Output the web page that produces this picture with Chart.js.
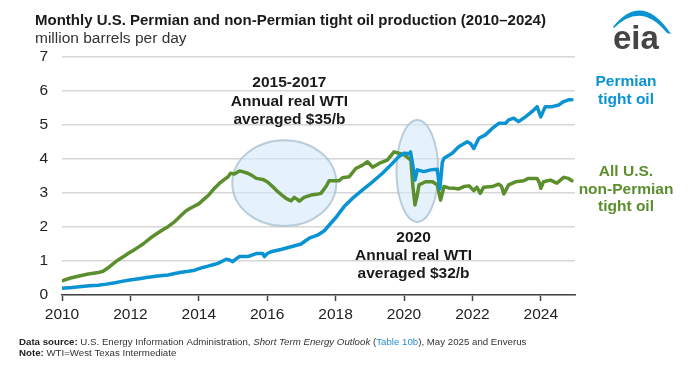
<!DOCTYPE html>
<html><head><meta charset="utf-8">
<script src="https://cdn.jsdelivr.net/npm/chart.js@4/dist/chart.umd.min.js"></script>
<style>html,body{margin:0;padding:0;background:#fff;} canvas{display:block;}</style>
</head><body>
<canvas id="c" width="696" height="373"></canvas>
<script>
// ---- data (decimal years, million barrels per day) ----
const permianYears = [2010.0,2010.3,2010.57,2010.8,2011.06,2011.3,2011.55,2011.75,2011.98,2012.25,2012.52,2012.8,2013.1,2013.3,2013.49,2013.7,2013.88,2014.12,2014.27,2014.42,2014.56,2014.8,2014.9,2014.99,2015.1,2015.19,2015.43,2015.55,2015.68,2015.87,2015.92,2016.0,2016.11,2016.4,2016.7,2016.99,2017.1,2017.23,2017.47,2017.67,2017.86,2018.01,2018.1,2018.25,2018.49,2018.79,2019.08,2019.37,2019.61,2019.85,2020.0,2020.1,2020.15,2020.19,2020.26,2020.32,2020.39,2020.58,2020.78,2020.97,2021.05,2021.12,2021.17,2021.41,2021.6,2021.85,2021.95,2022.04,2022.19,2022.38,2022.58,2022.77,2022.97,2023.06,2023.21,2023.35,2023.55,2023.74,2023.89,2024.0,2024.13,2024.33,2024.53,2024.67,2024.81,2024.91];
const permianValues = [0.20,0.22,0.25,0.27,0.29,0.32,0.36,0.40,0.44,0.48,0.52,0.56,0.59,0.63,0.67,0.70,0.73,0.81,0.85,0.89,0.93,1.05,1.03,0.98,1.07,1.13,1.13,1.17,1.22,1.22,1.13,1.22,1.27,1.34,1.42,1.50,1.58,1.67,1.76,1.89,2.11,2.28,2.40,2.60,2.84,3.09,3.33,3.58,3.82,4.07,4.17,4.16,4.15,4.21,3.80,3.38,3.68,3.63,3.68,3.70,3.12,3.90,4.02,4.17,4.36,4.51,4.45,4.31,4.61,4.71,4.90,5.05,5.05,5.15,5.20,5.10,5.24,5.39,5.54,5.24,5.54,5.54,5.59,5.69,5.74,5.74];

const nonPermianYears = [2010.0,2010.25,2010.5,2010.77,2011.06,2011.2,2011.35,2011.5,2011.64,2011.8,2011.93,2012.08,2012.22,2012.37,2012.52,2012.66,2012.81,2012.95,2013.1,2013.25,2013.39,2013.51,2013.63,2013.75,2013.88,2014.0,2014.12,2014.3,2014.46,2014.6,2014.75,2014.85,2014.93,2015.04,2015.19,2015.3,2015.43,2015.55,2015.68,2015.87,2016.0,2016.06,2016.2,2016.31,2016.45,2016.55,2016.7,2016.79,2016.87,2016.94,2017.08,2017.28,2017.45,2017.57,2017.72,2017.81,2018.01,2018.1,2018.2,2018.4,2018.59,2018.79,2018.93,2019.0,2019.08,2019.27,2019.51,2019.71,2019.85,2020.0,2020.1,2020.2,2020.26,2020.32,2020.38,2020.44,2020.63,2020.83,2020.97,2021.07,2021.17,2021.3,2021.46,2021.6,2021.75,2021.9,2022.04,2022.13,2022.23,2022.33,2022.58,2022.77,2022.85,2022.92,2023.06,2023.26,2023.5,2023.64,2023.89,2023.96,2024.0,2024.08,2024.28,2024.47,2024.67,2024.81,2024.91];
const nonPermianValues = [0.42,0.50,0.56,0.62,0.66,0.70,0.80,0.92,1.03,1.13,1.22,1.31,1.40,1.50,1.62,1.73,1.83,1.92,2.01,2.12,2.25,2.37,2.48,2.55,2.62,2.68,2.79,2.95,3.14,3.28,3.40,3.47,3.58,3.56,3.65,3.62,3.58,3.52,3.43,3.40,3.33,3.28,3.15,3.04,2.92,2.84,2.77,2.87,2.82,2.76,2.87,2.94,2.96,2.99,3.19,3.36,3.36,3.36,3.45,3.48,3.72,3.82,3.92,3.85,3.76,3.87,3.97,4.21,4.17,4.12,4.05,3.97,3.20,2.65,2.90,3.24,3.33,3.33,3.24,2.79,3.19,3.15,3.14,3.12,3.19,3.21,3.07,3.17,2.99,3.17,3.19,3.26,3.20,2.97,3.24,3.33,3.36,3.43,3.43,3.30,3.14,3.33,3.38,3.29,3.46,3.43,3.36];

const xTickYears = [2010,2012,2014,2016,2018,2020,2022,2024];
const yTickValues = [0,1,2,3,4,5,6,7];
const seriesLabels = [['Permian','tight oil'], ['All U.S.','non-Permian','tight oil']];
const titleText = 'Monthly U.S. Permian and non-Permian tight oil production (2010\u20132024)';
const unitText = 'million barrels per day';
// annotation: [center year, center value, radius in years, radius in value]
const ellipse2015 = [2016.5, 3.29, 1.52, 1.26];
const ellipse2020 = [2020.39, 3.65, 0.61, 1.5];
const note2015Lines = ['2015-2017', 'Annual real WTI', 'averaged $35/b'];
const note2015Pos = [2016.65, 6.24];
const note2020Lines = ['2020', 'Annual real WTI', 'averaged $32/b'];
const note2020Pos = [2020.28, 1.69];

const BLUE = '#0a93d2';
const GREEN = '#5b8f2e';
const FONT = '"Liberation Sans", Arial, sans-serif';

const decor = {
  id: 'decor',
  beforeDatasetsDraw(chart) {
    const {ctx, scales: {x, y}} = chart;
    ctx.save();
    for (const e of [ellipse2015, ellipse2020]) {
      const cx = x.getPixelForValue(e[0]), cy = y.getPixelForValue(e[1]);
      const rx = Math.abs(x.getPixelForValue(e[0] + e[2]) - cx);
      const ry = Math.abs(y.getPixelForValue(e[1] + e[3]) - cy);
      ctx.beginPath();
      ctx.ellipse(cx, cy, rx, ry, 0, 0, Math.PI * 2);
      ctx.fillStyle = 'rgba(214,234,248,0.6)';
      ctx.fill();
      ctx.lineWidth = 2;
      ctx.strokeStyle = 'rgba(165,190,205,0.75)';
      ctx.stroke();
    }
    ctx.restore();
  },
  afterDraw(chart) {
    const {ctx, scales: {x, y}} = chart;
    ctx.save();
    // title & unit
    ctx.textBaseline = 'middle';
    ctx.textAlign = 'left';
    ctx.fillStyle = '#1a1a1a';
    ctx.font = 'bold 15px ' + FONT;
    ctx.fillText(titleText, 35, 21);
    ctx.fillStyle = '#333';
    ctx.font = '15.5px ' + FONT;
    ctx.fillText(unitText, 35, 39);

    // notes
    ctx.textAlign = 'center';
    ctx.font = 'bold 15.5px ' + FONT;
    const drawLines = (lines, pos, color, lh) => {
      const px = x.getPixelForValue(pos[0]), py = y.getPixelForValue(pos[1]);
      ctx.fillStyle = color;
      lines.forEach((t, i) => ctx.fillText(t, px, py + i * lh));
    };
    drawLines(note2015Lines, note2015Pos, '#1a1a1a', 18.5);
    drawLines(note2020Lines, note2020Pos, '#1a1a1a', 18);

    // series labels
    const lx = chart.chartArea.right + 51;
    ctx.fillStyle = BLUE;
    seriesLabels[0].forEach((t, i) => ctx.fillText(t, lx, 82 + i * 18));
    ctx.fillStyle = GREEN;
    seriesLabels[1].forEach((t, i) => ctx.fillText(t, lx, 172 + i * 17.5));

    // footer
    ctx.textAlign = 'left';
    const fs = 9.7;
    let cx = 19;
    let fy = 342;
    const seg = (t, style, color) => {
      ctx.font = style + fs + 'px ' + FONT;
      ctx.fillStyle = color;
      ctx.fillText(t, cx, fy);
      cx += ctx.measureText(t).width;
    };
    seg('Data source:', 'bold ', '#222');
    seg(' U.S. Energy Information Administration, ', '', '#333');
    seg('Short Term Energy Outlook', 'italic ', '#333');
    seg(' (', '', '#333');
    seg('Table 10b', '', '#2a8fd0');
    seg('), May 2025 and Enverus', '', '#333');
    fy = 353; cx = 19;
    seg('Note:', 'bold ', '#222');
    seg(' WTI=West Texas Intermediate', '', '#333');

    // logo
    ctx.fillStyle = BLUE;
    ctx.beginPath();
    ctx.moveTo(613, 27);
    ctx.quadraticCurveTo(642, -9, 671, 34);
    ctx.lineTo(667, 33);
    ctx.quadraticCurveTo(641, 1, 614, 28);
    ctx.closePath();
    ctx.fill();
    ctx.fillStyle = '#454545';
    ctx.font = 'bold 33px ' + FONT;
    ctx.textBaseline = 'alphabetic';
    ctx.fillText('eia', 613, 49);
    ctx.restore();
  }
};

new Chart(document.getElementById('c'), {
  type: 'line',
  data: {
    datasets: [
      { label: 'Permian tight oil',
        data: permianYears.map((yr, i) => ({x: yr, y: permianValues[i]})),
        borderColor: BLUE, borderWidth: 3.5, pointRadius: 0, tension: 0,
        borderJoinStyle: 'round', borderCapStyle: 'round' },
      { label: 'All U.S. non-Permian tight oil',
        data: nonPermianYears.map((yr, i) => ({x: yr, y: nonPermianValues[i]})),
        borderColor: GREEN, borderWidth: 3.5, pointRadius: 0, tension: 0,
        borderJoinStyle: 'round', borderCapStyle: 'round' }
    ]
  },
  options: {
    responsive: false,
    animation: false,
    events: [],
    layout: { padding: { top: 57, right: 121, left: 0, bottom: 0 } },
    plugins: { legend: { display: false }, tooltip: { enabled: false } },
    scales: {
      x: {
        type: 'linear', min: 2010, max: 2025,
        afterBuildTicks: s => { s.ticks = xTickYears.map(v => ({value: v})); },
        afterFit: s => { s.height = 78; },
        border: { display: true, color: '#444', width: 1.5 },
        grid: { drawOnChartArea: false, drawTicks: true, tickLength: 6, tickColor: '#444', tickWidth: 1.5 },
        ticks: { color: '#222', font: { family: FONT, size: 15.5 }, padding: 4, maxRotation: 0,
                 callback: v => String(v) }
      },
      y: {
        min: 0, max: 7,
        afterBuildTicks: s => { s.ticks = yTickValues.map(v => ({value: v})); },
        afterFit: s => { s.width = 62; },
        border: { display: false },
        grid: { color: '#d6d6d6', lineWidth: 1.5, drawTicks: false },
        ticks: { color: '#222', font: { family: FONT, size: 15.5 }, padding: 14 }
      }
    }
  },
  plugins: [decor]
});
</script>
</body></html>
